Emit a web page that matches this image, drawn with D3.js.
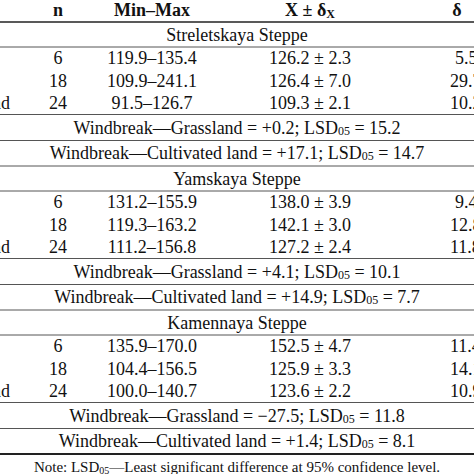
<!DOCTYPE html>
<html>
<head>
<meta charset="utf-8">
<script src="https://cdn.jsdelivr.net/npm/d3@7"></script>
<style>
body { margin: 0; background: #fff; }
svg { font-family: "Liberation Serif", "Times New Roman", serif; }
</style>
</head>
<body>
<svg id="chart" width="474" height="474"></svg>
<script>
var headers = ["", "n", "Min\u2013Max", "X \u00b1 \u03b4", "\u03b4"];
var sites = ["Streletskaya Steppe", "Yamskaya Steppe", "Kamennaya Steppe"];
var landTypes = ["Windbreak", "Grassland", "Cultivated land"];
var nValues = [6, 18, 24];
var minMax = [
	["119.9\u2013135.4", "109.9\u2013241.1", "91.5\u2013126.7"],
	["131.2\u2013155.9", "119.3\u2013163.2", "111.2\u2013156.8"],
	["135.9\u2013170.0", "104.4\u2013156.5", "100.0\u2013140.7"]
];
var means = [[126.2, 126.4, 109.3], [138.0, 142.1, 127.2], [152.5, 125.9, 123.6]];
var errs = [[2.3, 7.0, 2.1], [3.9, 3.0, 2.4], [4.7, 3.3, 2.2]];
var deltas = [["5.55", "29.74", "10.24"], ["9.44", "12.81", "11.80"], ["11.40", "14.10", "10.98"]];
var diffGrass = ["+0.2", "+4.1", "\u221227.5"];
var lsdGrass = ["15.2", "10.1", "11.8"];
var diffCult = ["+17.1", "+14.9", "+1.4"];
var lsdCult = ["14.7", "7.7", "8.1"];

var svg = d3.select("#chart");
var fs = 18;
var colX = [10, 58, 152, 310, 472];
var headerLine = 22, sectionH = 144;
var rowH = [25, 22.5, 22.5, 22.5, 26, 25.5];

function hline(y, w) {
	svg.append("line").attr("x1", 0).attr("x2", 474).attr("y1", y).attr("y2", y)
		.attr("stroke", w > 1 ? "#222" : "#555").attr("stroke-width", w);
}
function txt(x, y, anchor) {
	return svg.append("text").attr("x", x).attr("y", y).attr("text-anchor", anchor)
		.attr("dominant-baseline", "central").attr("font-size", fs).attr("fill", "#111");
}
function lsdText(y, str1, val) {
	var t = txt(237, y, "middle");
	t.append("tspan").text(str1 + "; LSD");
	t.append("tspan").attr("font-size", 12).attr("dy", 3).text("05");
	t.append("tspan").attr("dy", -3).text(" = " + val);
}

// label column only shows the tail of "Cultivated land"
var probe = txt(0, -50, "start").text(landTypes[2]);
var labelX = colX[0] - probe.node().getComputedTextLength();
probe.remove();

// header
[1, 2].forEach(function (i) {
	txt(colX[i], 10, "middle").attr("font-weight", "bold").text(headers[i]);
});
txt(457, 10, "middle").attr("font-weight", "bold").text(headers[4]);
var hx = txt(colX[3], 10, "middle").attr("font-weight", "bold");
hx.append("tspan").text(headers[3]);
hx.append("tspan").attr("font-size", 12).attr("dy", 4).text("X");
hline(headerLine, 1.6);

sites.forEach(function (site, s) {
	var y = headerLine + s * sectionH;
	txt(237, y + rowH[0] / 2, "middle").text(site);
	y += rowH[0];
	hline(y, 1);
	landTypes.forEach(function (lt, r) {
		var cy = y + rowH[1 + r] / 2;
		txt(labelX, cy, "start").text(lt);
		txt(colX[1], cy, "middle").text(nValues[r]);
		txt(colX[2], cy, "middle").text(minMax[s][r]);
		txt(colX[3], cy, "middle").text(d3.format(".1f")(means[s][r]) + " \u00b1 " + d3.format(".1f")(errs[s][r]));
		txt(deltas[s][r].length > 4 ? 450 : 455, cy, "start").text(deltas[s][r]);
		y += rowH[1 + r];
	});
	hline(y, 1);
	lsdText(y + rowH[4] / 2, "Windbreak\u2014Grassland = " + diffGrass[s], lsdGrass[s]);
	y += rowH[4];
	hline(y, 1);
	lsdText(y + rowH[5] / 2, "Windbreak\u2014Cultivated land = " + diffCult[s], lsdCult[s]);
	y += rowH[5];
	hline(y, s == 2 ? 2 : 1);
});

var note = txt(237, 467, "middle").attr("font-size", 15);
note.append("tspan").text("Note: LSD");
note.append("tspan").attr("font-size", 10).attr("dy", 3).text("05");
note.append("tspan").attr("dy", -3).text("\u2014Least significant difference at 95% confidence level.");
</script>
</body>
</html>
